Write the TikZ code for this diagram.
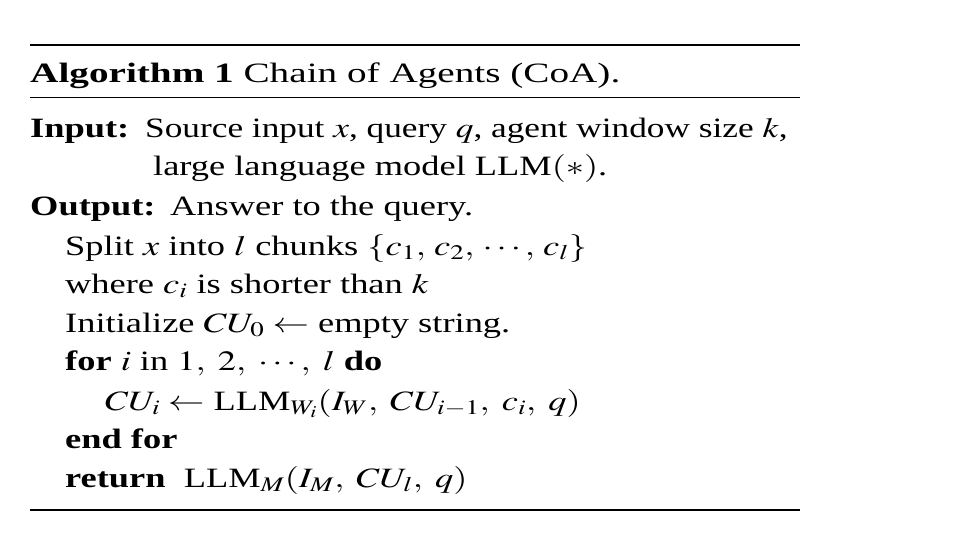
\documentclass[tikz,border=0pt]{standalone}
\usepackage{mathptmx}
\usepackage{fontspec}
\setmainfont{Liberation Serif}
\newcommand{\hs}[2][1.3]{\scalebox{#1}[1]{#2}}
\begin{document}
\begin{tikzpicture}[x=1pt,y=-1pt,
  t/.style={anchor=base west,inner sep=0pt,font=\fontsize{28}{32}\selectfont}]
\useasboundingbox (0,0) rectangle (969,548);
\fill[white] (0,0) rectangle (969,548);
\draw[line width=2pt] (30,45) -- (800,45);
\draw[line width=1pt] (30,98) -- (800,98);
\draw[line width=1.5pt] (30,510) -- (800,510);
\node[t] (h) at (30,83) {\hs[1.4]{\textbf{Algorithm 1} Chain of Agents (CoA).}};
\node[t] (in) at (30,138) {\hs{\textbf{Input:}} };
\node[t] (in1) at (145,138) {\hs[1.26]{Source input $x$, query $q$, agent window size $k$,}};
\node[t] (in2) at (153,176) {\hs{large language model LLM$(*)$.}};
\node[t] (out) at (30,216) {\hs{\textbf{Output:}}};
\node[t] (out1) at (170,216) {\hs{Answer to the query.}};
\node[t] (s1) at (65,255) {\hs{Split $x$ into $l$ chunks $\{c_1,\,c_2,\,\cdots,\,c_l\}$}};
\node[t] (s2) at (65,293) {\hs{where $c_i$ is shorter than $k$}};
\node[t] (s3) at (65,332) {\hs{Initialize $CU_0\leftarrow$ empty string.}};
\node[t] (s4) at (65,370) {\hs{\textbf{for} $i$ in $1,\;2,\;\cdots,\;l$ \textbf{do}}};
\node[t] (s5) at (105,410) {\hs{$CU_i\leftarrow$ LLM$_{W_i}(I_W,\;CU_{i-1},\;c_i,\;q)$}};
\node[t] (s6) at (65,448) {\hs{\textbf{end for}}};
\node[t] (s7) at (65,487) {\hs{\textbf{return}\ \ LLM$_M(I_M,\;CU_l,\;q)$}};
\end{tikzpicture}
\end{document}
